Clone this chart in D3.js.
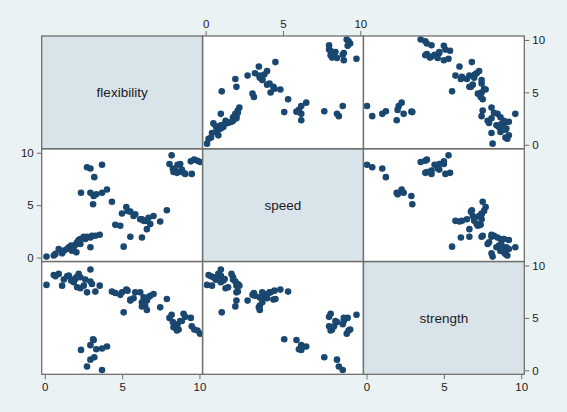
<!DOCTYPE html>
<html>
<head>
<meta charset="utf-8">
<script src="https://cdn.jsdelivr.net/npm/d3@7"></script>
<style>
body { margin: 0; background: #eaf2f3; }
text { font-family: "Liberation Sans", Arial, sans-serif; }
</style>
</head>
<body>
<svg id="chart" width="567" height="412"></svg>
<script>
// variables of the matrix, in row/column order
var varNames = ["flexibility", "speed", "strength"];
var tickValues = [0, 5, 10];

var flexibility = [
  // low group
  0.11, 0.58, 0.69, 0.9, 1.12, 1.23, 1.44, 1.55, 1.7, 1.76, 1.87, 1.98, 2.04,
  2.09, 2.19, 2.3, 2.3, 2.52, 2.62, 2.73, 2.95, 2.95, 3.05, 3.27, 3.55,
  // mid flexibility, high speed
  3.7, 2.73, 2.95, 3.2, 4.02, 2.34, 2.95, 3.33, 3.7, 3.16, 3.12,
  // middle group
  4.34, 4.56, 4.99, 4.88, 5.27, 5.35, 5.85, 6.17, 5.1, 5.53, 5.53, 5.74,
  6.28, 6.28, 6.49, 6.6, 6.82, 6.71, 7.03, 7.46, 7.89, 6.6, 6.39,
  // top group
  8.2, 8.06, 8.58, 8.75, 8.28, 8.43, 8.65, 8.86, 8.32, 8.54, 8.97, 9.08,
  9.5, 9.44, 9.66, 9.87, 10.04
];
var speed = [
  0.09, 0.19, 0.35, 0.82, 0.41, 0.66, 0.82, 0.98, 1.14, 0.66, 0.98, 1.23, 0.5,
  1.45, 1.67, 1.77, 1.29, 1.99, 1.77, 1.99, 1.92, 0.98, 2.08, 2.08, 2.18,
  8.86, 8.61, 8.49, 7.67, 6.5, 6.18, 6.18, 6.03, 6.18, 5.87, 5.08,
  5.33, 3.12, 4.2, 3.03, 4.83, 4.45, 4.13, 3.66, 1.04, 4.38, 1.99, 3.97,
  1.92, 3.66, 3.5, 2.71, 3.19, 3.79, 3.97, 3.44, 4.51, 3.5, 3.5,
  9.75, 8.93, 8.86, 8.93, 8.49, 8.3, 8.17, 8.39, 8.17, 8.08, 8.08, 7.98,
  7.98, 9.18, 9.34, 9.24, 9.12
];
var strength = [
  8.15, 9.1, 8.98, 9.2, 8.08, 8.66, 8.98, 9.04, 8.56, 8.66, 8.4, 8.72, 8.88,
  7.92, 9.2, 8.88, 7.83, 8.08, 8.66, 7.44, 8.47, 9.62, 8.24, 7.51, 8.08,
  0.03, 0.37, 1.02, 1.25, 2.27, 1.95, 2.4, 2.01, 2.08, 2.9, 2.96,
  7.51, 7.38, 7.44, 7.2, 7.7, 7.6, 7.44, 7.44, 5.53, 6.75, 6.65, 6.87,
  6.1, 6.49, 6.17, 6.65, 7.12, 7.0, 7.28, 6.01, 6.81, 5.75, 6.96,
  5.3, 5.0, 4.4, 4.7, 4.6, 4.2, 3.9, 4.7, 4.1, 3.8, 5.4, 5.1,
  4.2, 5.0, 3.9, 3.8, 3.5
];

// which side each variable's axis sits on (Stata alternates them)
var xAxisSide = ["bottom", "top", "bottom"];
var yAxisSide = ["right", "left", "right"];

var columns = [flexibility, speed, strength];
var svg = d3.select("#chart");

var gridLeft = 41.7, gridTop = 36, gridRight = 524.3, gridBottom = 374.3;
var cellW = (gridRight - gridLeft) / 3;
var cellH = (gridBottom - gridTop) / 3;

var x = d3.scaleLinear().domain([-0.2, 10.2]).range([0, cellW]);
var y = d3.scaleLinear().domain([-0.38, 10.38]).range([cellH, 0]);

var rows = d3.range(3);

rows.forEach(function(i) {
  rows.forEach(function(j) {
    var g = svg.append("g")
      .attr("transform", "translate(" + (gridLeft + j * cellW) + "," + (gridTop + i * cellH) + ")");
    if (i == j) {
      g.append("rect").attr("width", cellW).attr("height", cellH).attr("fill", "#d9e4ea");
      g.append("text")
        .attr("x", cellW / 2).attr("y", cellH / 2)
        .attr("dy", "0.35em")
        .attr("text-anchor", "middle")
        .attr("font-size", "13.5px")
        .attr("fill", "#1b1b1b")
        .text(varNames[i]);
    } else {
      g.append("rect").attr("width", cellW).attr("height", cellH).attr("fill", "#ffffff");
      var xs = columns[j], ys = columns[i];
      g.selectAll("circle")
        .data(d3.range(xs.length))
        .enter().append("circle")
        .attr("cx", function(k) { return x(xs[k]); })
        .attr("cy", function(k) { return y(ys[k]); })
        .attr("r", 3.3)
        .attr("fill", "#1a476f");
    }
  });
});

// axes
function styleAxis(sel) {
  sel.select(".domain").remove();
  sel.selectAll(".tick line").attr("stroke", "#6f6f6f").attr("stroke-width", 1);
  sel.selectAll(".tick text").attr("font-size", "11.5px").attr("fill", "#1b1b1b")
    .attr("font-family", "'Liberation Sans', Arial, sans-serif");
}

rows.forEach(function(j) {
  var side = xAxisSide[j];
  var ax = side == "top" ? d3.axisTop(x) : d3.axisBottom(x);
  ax.tickValues(tickValues).tickSize(5).tickPadding(side == "top" ? 3 : 4);
  svg.append("g")
    .attr("transform", "translate(" + (gridLeft + j * cellW) + "," + (side == "top" ? gridTop : gridBottom) + ")")
    .call(ax).call(styleAxis);
});

rows.forEach(function(i) {
  var side = yAxisSide[i];
  var ay = side == "left" ? d3.axisLeft(y) : d3.axisRight(y);
  ay.tickValues(tickValues).tickSize(5).tickPadding(3);
  svg.append("g")
    .attr("transform", "translate(" + (side == "left" ? gridLeft : gridRight) + "," + (gridTop + i * cellH) + ")")
    .call(ay).call(styleAxis);
});

// cell borders on top
rows.forEach(function(i) {
  rows.forEach(function(j) {
    svg.append("rect")
      .attr("x", gridLeft + j * cellW).attr("y", gridTop + i * cellH)
      .attr("width", cellW).attr("height", cellH)
      .attr("fill", "none")
      .attr("stroke", "#6f6f6f")
      .attr("stroke-width", 1.3);
  });
});
</script>
</body>
</html>
